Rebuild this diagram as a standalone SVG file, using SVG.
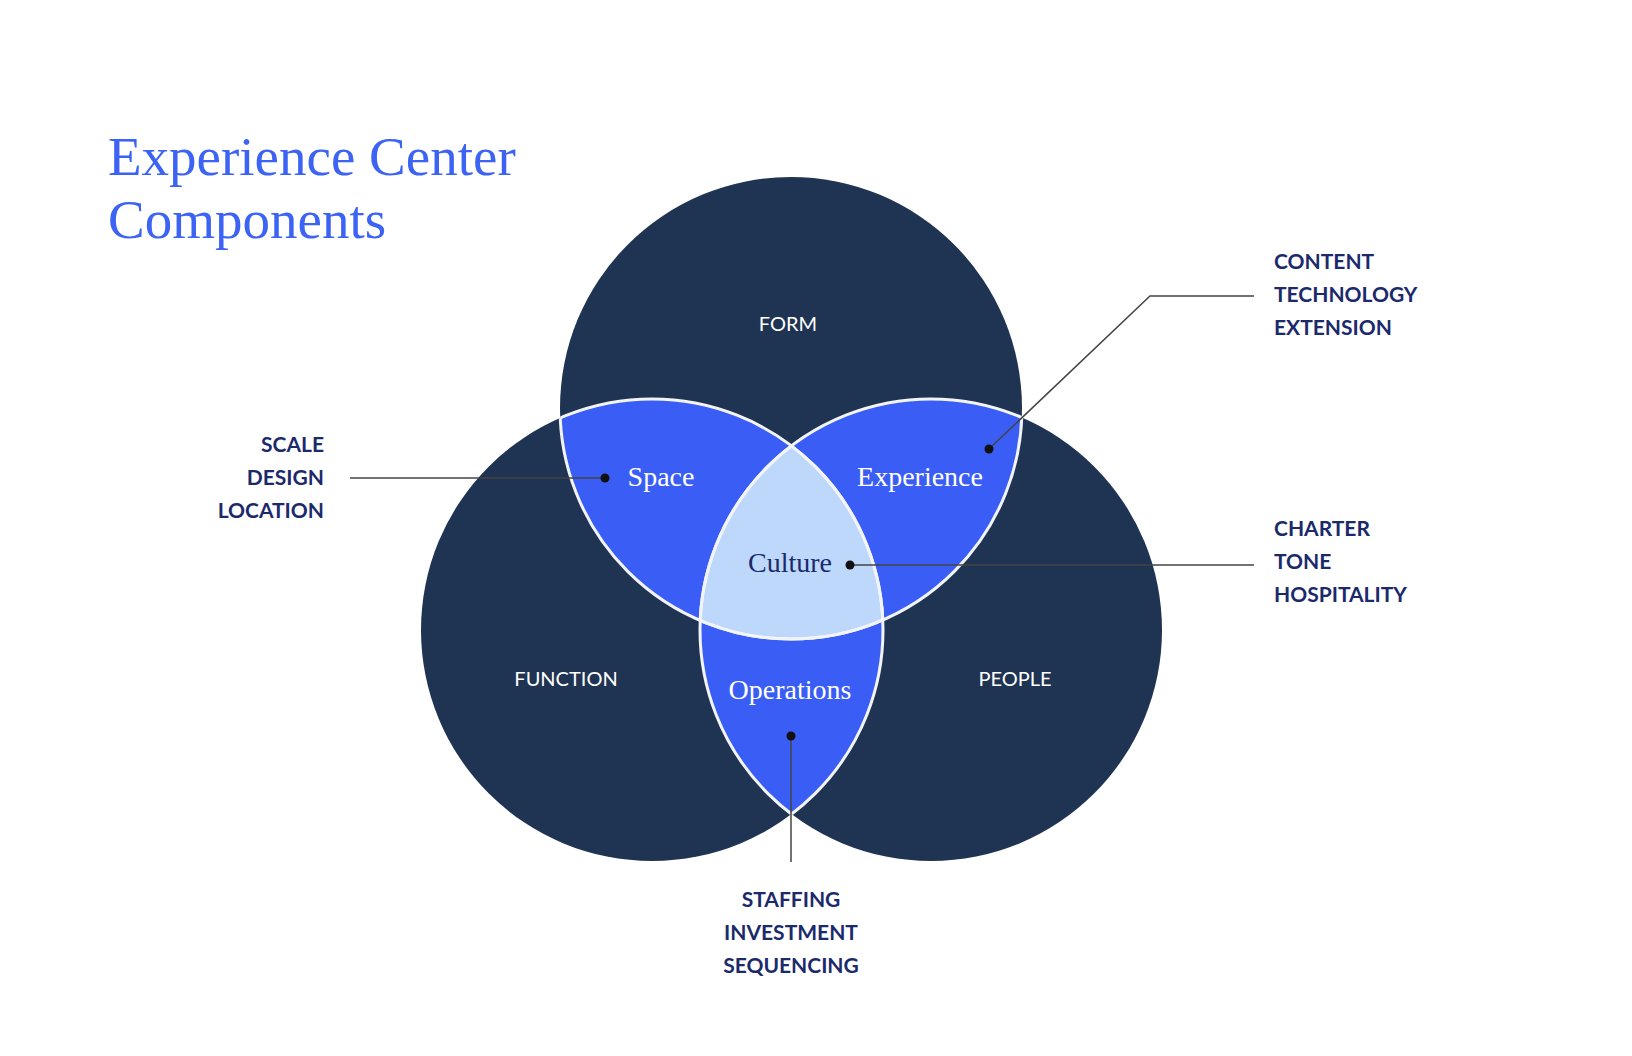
<svg xmlns="http://www.w3.org/2000/svg" width="1632" height="1056" viewBox="0 0 1632 1056">
<style>
.dk{fill:#1F3352}
.bl{fill:#3A5EF5}
.lt{fill:#BDD8FB}
.ring{fill:none;stroke:#F2F4F8;stroke-width:3}
.cl{font-family:Lato,"Liberation Sans",sans-serif;font-size:20px;fill:#fff;text-anchor:middle}
.sl{font-family:"Liberation Serif",serif;font-size:28px;fill:#fff;text-anchor:middle}
.lb{font-family:Lato,"Liberation Sans",sans-serif;font-weight:700;font-size:21px;fill:#1B2A6B}
.ln{fill:none;stroke:#444;stroke-width:1.5}
.dot{fill:#111}
</style>
<defs>
<clipPath id="cT"><circle cx="791" cy="408" r="231"/></clipPath>
<clipPath id="cL"><circle cx="652" cy="630" r="231"/></clipPath>
<clipPath id="cR"><circle cx="931" cy="630" r="231"/></clipPath>
</defs>
<rect width="1632" height="1056" fill="#fff"/>
<text x="108" y="175" font-family="'Liberation Serif',serif" font-size="55" fill="#3D63F5">Experience Center</text>
<text x="108" y="238" font-family="'Liberation Serif',serif" font-size="55" fill="#3D63F5">Components</text>
<g id="form"><circle class="dk" cx="791" cy="408" r="231"/></g>
<g id="function"><circle class="dk" cx="652" cy="630" r="231"/></g>
<g id="people"><circle class="dk" cx="931" cy="630" r="231"/></g>
<g id="space" clip-path="url(#cT)"><circle class="bl" cx="652" cy="630" r="231"/></g>
<g id="experience" clip-path="url(#cT)"><circle class="bl" cx="931" cy="630" r="231"/></g>
<g id="operations" clip-path="url(#cL)"><circle class="bl" cx="931" cy="630" r="231"/></g>
<g id="culture" clip-path="url(#cT)"><g clip-path="url(#cL)"><circle class="lt" cx="931" cy="630" r="231"/></g></g>
<g id="rings">
<g clip-path="url(#cT)"><circle class="ring" cx="652" cy="630" r="231"/><circle class="ring" cx="931" cy="630" r="231"/></g>
<g clip-path="url(#cL)"><circle class="ring" cx="791" cy="408" r="231"/><circle class="ring" cx="931" cy="630" r="231"/></g>
<g clip-path="url(#cR)"><circle class="ring" cx="791" cy="408" r="231"/><circle class="ring" cx="652" cy="630" r="231"/></g>
</g>
<g id="labels">
<text class="cl" x="788" y="331">FORM</text>
<text class="cl" x="566" y="686">FUNCTION</text>
<text class="cl" x="1015" y="686">PEOPLE</text>
<text class="sl" x="661" y="486">Space</text>
<text class="sl" x="920" y="486">Experience</text>
<text class="sl" x="790" y="572" style="fill:#1B2A6B">Culture</text>
<text class="sl" x="790" y="699">Operations</text>
</g>
<g id="connectors">
<path class="ln" d="M350 478H605"/>
<path class="ln" d="M989 449L1150 296H1254"/>
<path class="ln" d="M850 565H1254"/>
<path class="ln" d="M791 736V862"/>
<circle class="dot" cx="605" cy="478" r="4.5"/>
<circle class="dot" cx="989" cy="449" r="4.5"/>
<circle class="dot" cx="850" cy="565" r="4.5"/>
<circle class="dot" cx="791" cy="736" r="4.5"/>
</g>
<g id="notes">
<text class="lb" x="1274" y="269">CONTENT</text>
<text class="lb" x="1274" y="302">TECHNOLOGY</text>
<text class="lb" x="1274" y="335">EXTENSION</text>
<text class="lb" x="1274" y="536">CHARTER</text>
<text class="lb" x="1274" y="569">TONE</text>
<text class="lb" x="1274" y="602">HOSPITALITY</text>
<g text-anchor="end">
<text class="lb" x="324" y="452">SCALE</text>
<text class="lb" x="324" y="485">DESIGN</text>
<text class="lb" x="324" y="518">LOCATION</text>
</g>
<g text-anchor="middle">
<text class="lb" x="791" y="907">STAFFING</text>
<text class="lb" x="791" y="940">INVESTMENT</text>
<text class="lb" x="791" y="973">SEQUENCING</text>
</g>
</g>
</svg>
